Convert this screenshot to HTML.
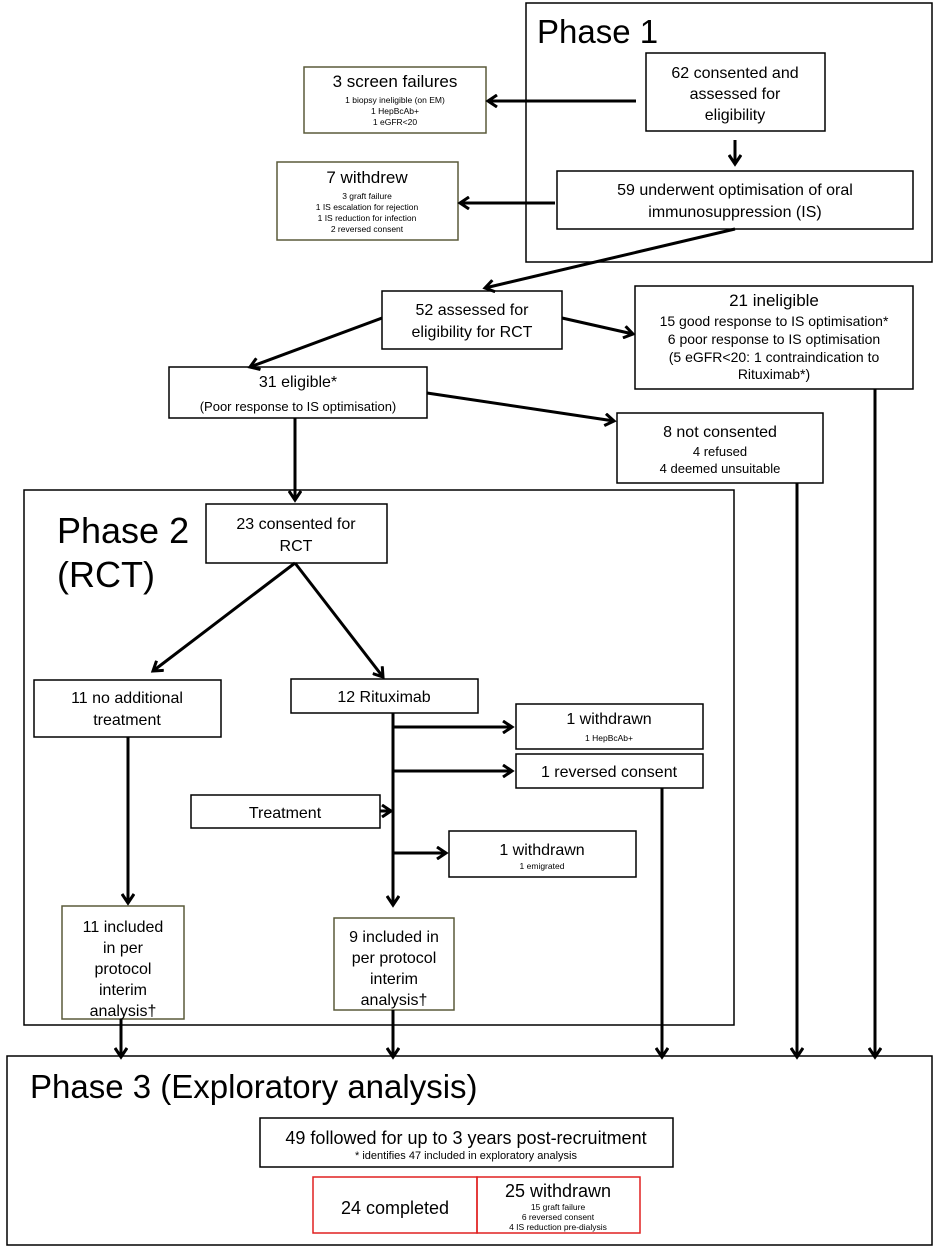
<!DOCTYPE html>
<html><head><style>
html,body{margin:0;padding:0;background:#fff}
svg{display:block}
text{font-family:"Liberation Sans",Arial,sans-serif;fill:#000}
</style></head><body>
<svg width="941" height="1248" viewBox="0 0 941 1248" xmlns="http://www.w3.org/2000/svg">
<defs>
<marker id="a" markerWidth="14" markerHeight="14" refX="10" refY="7" orient="auto" markerUnits="userSpaceOnUse">
<polyline points="1,1 10,7 1,13" fill="none" stroke="#000" stroke-width="3"/>
</marker>
</defs>
<g fill="none" stroke="#000" stroke-width="1.5">
<rect x="526" y="3" width="406" height="259"/>
<rect x="24" y="490" width="710" height="535"/>
<rect x="7" y="1056" width="925" height="189"/>
<rect x="646" y="53" width="179" height="78"/>
<rect x="557" y="171" width="356" height="58"/>
<rect x="382" y="291" width="180" height="58"/>
<rect x="635" y="286" width="278" height="103"/>
<rect x="169" y="367" width="258" height="51"/>
<rect x="617" y="413" width="206" height="70"/>
<rect x="206" y="504" width="181" height="59"/>
<rect x="34" y="680" width="187" height="57"/>
<rect x="291" y="679" width="187" height="34"/>
<rect x="516" y="704" width="187" height="45"/>
<rect x="516" y="754" width="187" height="34"/>
<rect x="191" y="795" width="189" height="33"/>
<rect x="449" y="831" width="187" height="46"/>
<rect x="260" y="1118" width="413" height="49"/>
</g>
<g fill="none" stroke="#5a5a3a" stroke-width="1.5">
<rect x="304" y="67" width="182" height="66"/>
<rect x="277" y="162" width="181" height="78"/>
<rect x="62" y="906" width="122" height="113"/>
<rect x="334" y="918" width="120" height="92"/>
</g>
<g fill="none" stroke="#e02020" stroke-width="1.5">
<rect x="313" y="1177" width="164" height="56"/>
<rect x="477" y="1177" width="163" height="56"/>
</g>
<g stroke="#000" stroke-width="3" fill="none" marker-end="url(#a)">
<line x1="636" y1="101" x2="488" y2="101"/>
<line x1="735" y1="140" x2="735" y2="164"/>
<line x1="555" y1="203" x2="460" y2="203"/>
<line x1="735" y1="229" x2="485" y2="288"/>
<line x1="562" y1="318" x2="633" y2="334"/>
<line x1="382" y1="318" x2="250" y2="367"/>
<line x1="427" y1="393" x2="614" y2="421"/>
<line x1="295" y1="418" x2="295" y2="500"/>
<line x1="295" y1="563" x2="153" y2="671"/>
<line x1="295" y1="563" x2="383" y2="677"/>
<line x1="393" y1="713" x2="393" y2="905"/>
<line x1="393" y1="727" x2="512" y2="727"/>
<line x1="393" y1="771" x2="512" y2="771"/>
<line x1="380" y1="811" x2="391" y2="811"/>
<line x1="393" y1="853" x2="446" y2="853"/>
<line x1="128" y1="737" x2="128" y2="903"/>
<line x1="121" y1="1019" x2="121" y2="1057"/>
<line x1="393" y1="1010" x2="393" y2="1057"/>
<line x1="662" y1="788" x2="662" y2="1057"/>
<line x1="797" y1="483" x2="797" y2="1057"/>
<line x1="875" y1="389" x2="875" y2="1057"/>
</g>
<g font-size="16" text-anchor="middle">
<text x="735" y="78">62 consented and</text>
<text x="735" y="99">assessed for</text>
<text x="735" y="120">eligibility</text>
<text x="735" y="195">59 underwent optimisation of oral</text>
<text x="735" y="217">immunosuppression (IS)</text>
<text x="472" y="315">52 assessed for</text>
<text x="472" y="337">eligibility for RCT</text>
<text x="774" y="306" font-size="17">21 ineligible</text>
<text x="298" y="387">31 eligible*</text>
<text x="720" y="437">8 not consented</text>
<text x="296" y="529">23 consented for</text>
<text x="296" y="551">RCT</text>
<text x="127" y="703">11 no additional</text>
<text x="127" y="725">treatment</text>
<text x="384" y="702">12 Rituximab</text>
<text x="609" y="724">1 withdrawn</text>
<text x="609" y="777">1 reversed consent</text>
<text x="285" y="818">Treatment</text>
<text x="542" y="855">1 withdrawn</text>
<text x="123" y="932">11 included</text>
<text x="123" y="953">in per</text>
<text x="123" y="974">protocol</text>
<text x="123" y="995">interim</text>
<text x="123" y="1016">analysis†</text>
<text x="394" y="942">9 included in</text>
<text x="394" y="963">per protocol</text>
<text x="394" y="984">interim</text>
<text x="394" y="1005">analysis†</text>
<text x="395" y="1214" font-size="18">24 completed</text>
<text x="558" y="1197" font-size="18">25 withdrawn</text>
<text x="466" y="1144" font-size="18">49 followed for up to 3 years post-recruitment</text>
<text x="395" y="87" font-size="17">3 screen failures</text>
<text x="367" y="183" font-size="17">7 withdrew</text>
</g>
<g font-size="14" text-anchor="middle">
<text x="774" y="326">15 good response to IS optimisation*</text>
<text x="774" y="344">6 poor response to IS optimisation</text>
<text x="774" y="362">(5 eGFR&lt;20: 1 contraindication to</text>
<text x="774" y="379">Rituximab*)</text>
</g>
<g font-size="13" text-anchor="middle">
<text x="298" y="411">(Poor response to IS optimisation)</text>
<text x="720" y="456">4 refused</text>
<text x="720" y="473">4 deemed unsuitable</text>
<text x="466" y="1159" font-size="11">* identifies 47 included in exploratory analysis</text>
</g>
<g font-size="8.5" text-anchor="middle">
<text x="395" y="103">1 biopsy ineligible (on EM)</text>
<text x="395" y="114">1 HepBcAb+</text>
<text x="395" y="125">1 eGFR&lt;20</text>
<text x="367" y="199">3 graft failure</text>
<text x="367" y="210">1 IS escalation for rejection</text>
<text x="367" y="221">1 IS reduction for infection</text>
<text x="367" y="232">2 reversed consent</text>
<text x="609" y="741">1 HepBcAb+</text>
<text x="542" y="869">1 emigrated</text>
<text x="558" y="1210">15 graft failure</text>
<text x="558" y="1220">6 reversed consent</text>
<text x="558" y="1230">4 IS reduction pre-dialysis</text>
</g>
<g font-size="33">
<text x="537" y="43">Phase 1</text>
<text x="57" y="543" font-size="36">Phase 2</text>
<text x="57" y="587" font-size="36">(RCT)</text>
<text x="30" y="1098">Phase 3 (Exploratory analysis)</text>
</g>
</svg>
</body></html>
